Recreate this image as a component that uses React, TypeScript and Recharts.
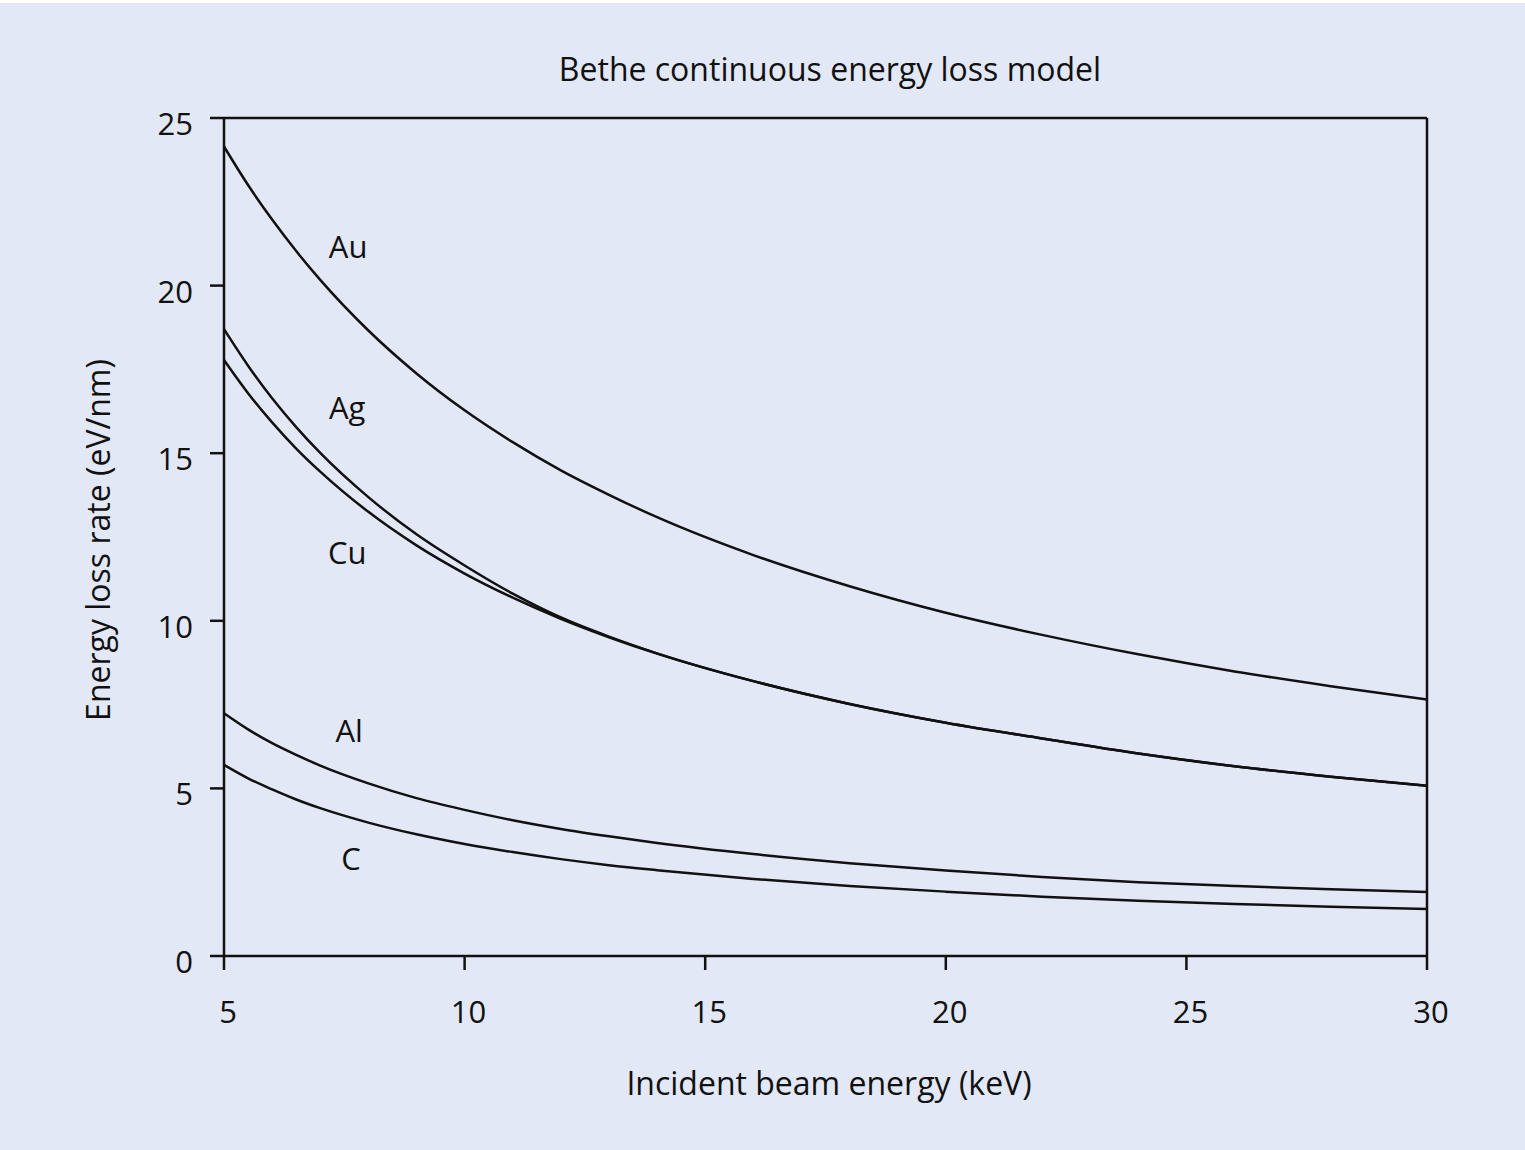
import { LineChart, Line, XAxis, YAxis, ReferenceLine, ReferenceDot } from 'recharts';

const energies = [5, 5.5, 6, 6.5, 7, 8, 9, 10, 11, 12, 13, 14, 16, 18, 20, 22, 24, 26, 28, 30];

const auLoss = [24.15, 23.0, 21.97, 21.03, 20.17, 18.66, 17.38, 16.28, 15.33, 14.49, 13.76, 13.09, 11.96, 11.03, 10.24, 9.58, 9.0, 8.49, 8.05, 7.65];
const agLoss = [18.7, 17.61, 16.64, 15.78, 15.01, 13.69, 12.58, 11.65, 10.81, 10.1, 9.53, 9.03, 8.2, 7.52, 6.96, 6.49, 6.04, 5.66, 5.35, 5.08];
const cuLoss = [17.78, 16.79, 15.92, 15.14, 14.45, 13.25, 12.25, 11.41, 10.69, 10.06, 9.51, 9.02, 8.2, 7.52, 6.96, 6.49, 6.04, 5.66, 5.35, 5.08];
const alLoss = [7.24, 6.76, 6.35, 6.0, 5.68, 5.15, 4.71, 4.36, 4.05, 3.79, 3.57, 3.37, 3.04, 2.77, 2.55, 2.36, 2.2, 2.09, 1.99, 1.91];
const cLoss = [5.7, 5.3, 4.97, 4.67, 4.41, 3.98, 3.63, 3.34, 3.1, 2.89, 2.71, 2.56, 2.3, 2.09, 1.92, 1.77, 1.65, 1.55, 1.47, 1.4];

const xTicks = [5, 10, 15, 20, 25, 30];
const yTicks = [0, 5, 10, 15, 20, 25];

const seriesKeys = ['Au', 'Ag', 'Cu', 'Al', 'C'];
// where each element name sits, in data units
const curveLabels = [
  { name: 'Au', x: 7.58, y: 21.18 },
  { name: 'Ag', x: 7.56, y: 16.38 },
  { name: 'Cu', x: 7.56, y: 12.05 },
  { name: 'Al', x: 7.6, y: 6.74 },
  { name: 'C', x: 7.64, y: 2.92 },
];

const data = energies.map((e, i) => ({
  energy: e,
  Au: auLoss[i],
  Ag: agLoss[i],
  Cu: cuLoss[i],
  Al: alLoss[i],
  C: cLoss[i],
}));

const FONT = '"Open Sans", "Noto Sans", sans-serif';
const INK = '#111111';
const BG = '#e2e8f6';

function YTick({ x, y, payload }: any) {
  return (
    <text x={x} y={y + 5} textAnchor="end" dominantBaseline="central" fontFamily={FONT} fontSize={31} fill={INK}>
      {payload.value}
    </text>
  );
}

function XTick({ x, y, payload }: any) {
  return (
    <text x={x + 4} y={y + 41} textAnchor="middle" dominantBaseline="central" fontFamily={FONT} fontSize={31} fill={INK}>
      {payload.value}
    </text>
  );
}

function CurveName({ viewBox, value }: any) {
  const cx = viewBox.x + (viewBox.width || 0) / 2;
  const cy = viewBox.y + (viewBox.height || 0) / 2;
  return (
    <text x={cx} y={cy} textAnchor="middle" dominantBaseline="central" fontFamily={FONT} fontSize={31} fill={INK}>
      {value}
    </text>
  );
}

export default function App() {
  return (
    <div style={{ position: 'absolute', left: 0, top: 0, width: 1525, height: 1150, background: BG, fontFamily: FONT, color: INK }}>
      <div style={{ position: 'absolute', left: 0, right: 0, top: 0, height: 3, background: '#ffffff' }} />
      <LineChart width={1525} height={1150} data={data} margin={{ top: 118, right: 98, left: 164, bottom: 134 }}>
        <XAxis
          dataKey="energy"
          type="number"
          domain={[5, 30]}
          ticks={xTicks}
          tick={<XTick />}
          tickSize={14}
          tickMargin={0}
          height={60}
          axisLine={{ stroke: INK, strokeWidth: 2.5 }}
          tickLine={{ stroke: INK, strokeWidth: 2.5 }}
        />
        <YAxis
          type="number"
          domain={[0, 25]}
          ticks={yTicks}
          tick={<YTick />}
          tickSize={14}
          tickMargin={17}
          width={60}
          axisLine={{ stroke: INK, strokeWidth: 2.5 }}
          tickLine={{ stroke: INK, strokeWidth: 2.5 }}
        />
        <ReferenceLine y={25} stroke={INK} strokeWidth={2.5} />
        <ReferenceLine x={30} stroke={INK} strokeWidth={2.5} />
        {seriesKeys.map((k) => (
          <Line
            key={k}
            type="monotone"
            dataKey={k}
            stroke={INK}
            strokeWidth={2.5}
            dot={false}
            activeDot={false}
            isAnimationActive={false}
          />
        ))}
        {curveLabels.map((l) => (
          <ReferenceDot
            key={l.name}
            x={l.x}
            y={l.y}
            r={0}
            stroke="none"
            fill="none"
            label={<CurveName value={l.name} />}
          />
        ))}
      </LineChart>
      <div style={{ position: 'absolute', left: 0, width: 1660, top: 47, fontSize: 32, textAlign: 'center', whiteSpace: 'nowrap' }}>
        Bethe continuous energy loss model
      </div>
      <div style={{ position: 'absolute', left: 0, width: 1658, top: 1061, fontSize: 32, textAlign: 'center', whiteSpace: 'nowrap' }}>
        Incident beam energy (keV)
      </div>
      <div
        style={{
          position: 'absolute',
          left: 97,
          top: 540,
          fontSize: 32,
          whiteSpace: 'nowrap',
          transform: 'translate(-50%, -50%) rotate(-90deg)',
        }}
      >
        Energy loss rate (eV/nm)
      </div>
    </div>
  );
}
